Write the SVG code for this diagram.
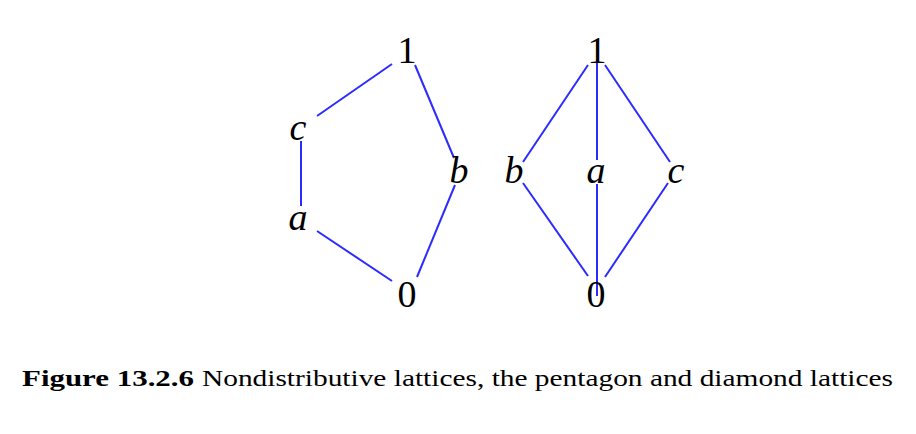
<svg xmlns="http://www.w3.org/2000/svg" width="916" height="434" viewBox="0 0 916 434">
<style>
.e{stroke:#2b2bff;stroke-width:2;fill:none}
.n{font-size:38px;fill:#000;text-anchor:middle}
.i{font-style:italic}
.cap{font-size:23px;fill:#000}
</style>
<rect width="916" height="434" fill="#fff"/>
<g id="connectors">
<line class="e" x1="392" y1="64" x2="317" y2="116"/>
<line class="e" x1="415" y1="65" x2="454" y2="158"/>
<line class="e" x1="301" y1="141" x2="301" y2="206"/>
<line class="e" x1="317" y1="231" x2="392" y2="281"/>
<line class="e" x1="455" y1="185" x2="417" y2="277"/>
<line class="e" x1="588" y1="65" x2="523" y2="162"/>
<line class="e" x1="597" y1="63" x2="597" y2="160"/>
<line class="e" x1="605" y1="65" x2="670" y2="162"/>
<line class="e" x1="523" y1="183" x2="588" y2="276"/>
<line class="e" x1="597" y1="184" x2="597" y2="296"/>
<line class="e" x1="668" y1="183" x2="605" y2="277"/>
</g>
<g font-family="'Liberation Serif', 'Times New Roman', Times, serif">
<g id="p1"><text class="n" x="407" y="63">1</text></g>
<g id="pc"><text class="n i" x="298" y="140">c</text></g>
<g id="pa"><text class="n i" x="298" y="230">a</text></g>
<g id="pb"><text class="n i" x="459" y="183">b</text></g>
<g id="p0"><text class="n" x="407" y="307">0</text></g>
<g id="d1"><text class="n" x="597" y="63">1</text></g>
<g id="db"><text class="n i" x="514" y="183">b</text></g>
<g id="da"><text class="n i" x="596" y="183">a</text></g>
<g id="dc"><text class="n i" x="676" y="183">c</text></g>
<g id="d0"><text class="n" x="596" y="307">0</text></g>
<g id="caption">
<text class="cap" x="22" y="386" font-weight="bold" textLength="172" lengthAdjust="spacingAndGlyphs">Figure 13.2.6</text>
<text class="cap" x="202" y="386" textLength="691" lengthAdjust="spacingAndGlyphs">Nondistributive lattices, the pentagon and diamond lattices</text>
</g>
</g>
</svg>
